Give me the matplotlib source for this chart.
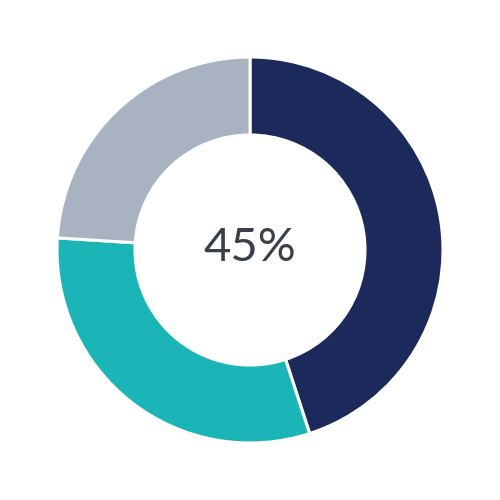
import matplotlib
matplotlib.use("Agg")
import matplotlib.pyplot as plt

labels = ["Navy", "Teal", "Grey"]
values = [45, 31, 24]
colors = ["#1b2a5a", "#1bb5b8", "#a8b2c1"]
center_label = "45%"

fig = plt.figure(figsize=(5, 5), dpi=100)
ax = fig.add_axes([0, 0, 1, 1])
ax.pie(values, colors=colors, startangle=90, counterclock=False,
       wedgeprops=dict(width=0.404, edgecolor="white", linewidth=2.2))
ax.text(0, 0.008, center_label, ha="center", va="center", fontsize=34,
        color="#3a4049", family=["Lato", "DejaVu Sans"], fontweight="normal")
lim = 250 / 193
ax.set_xlim(-lim, lim)
ax.set_ylim(-lim, lim)
ax.set_aspect("equal")
ax.axis("off")
fig.savefig("out.png", dpi=100, facecolor="white")
